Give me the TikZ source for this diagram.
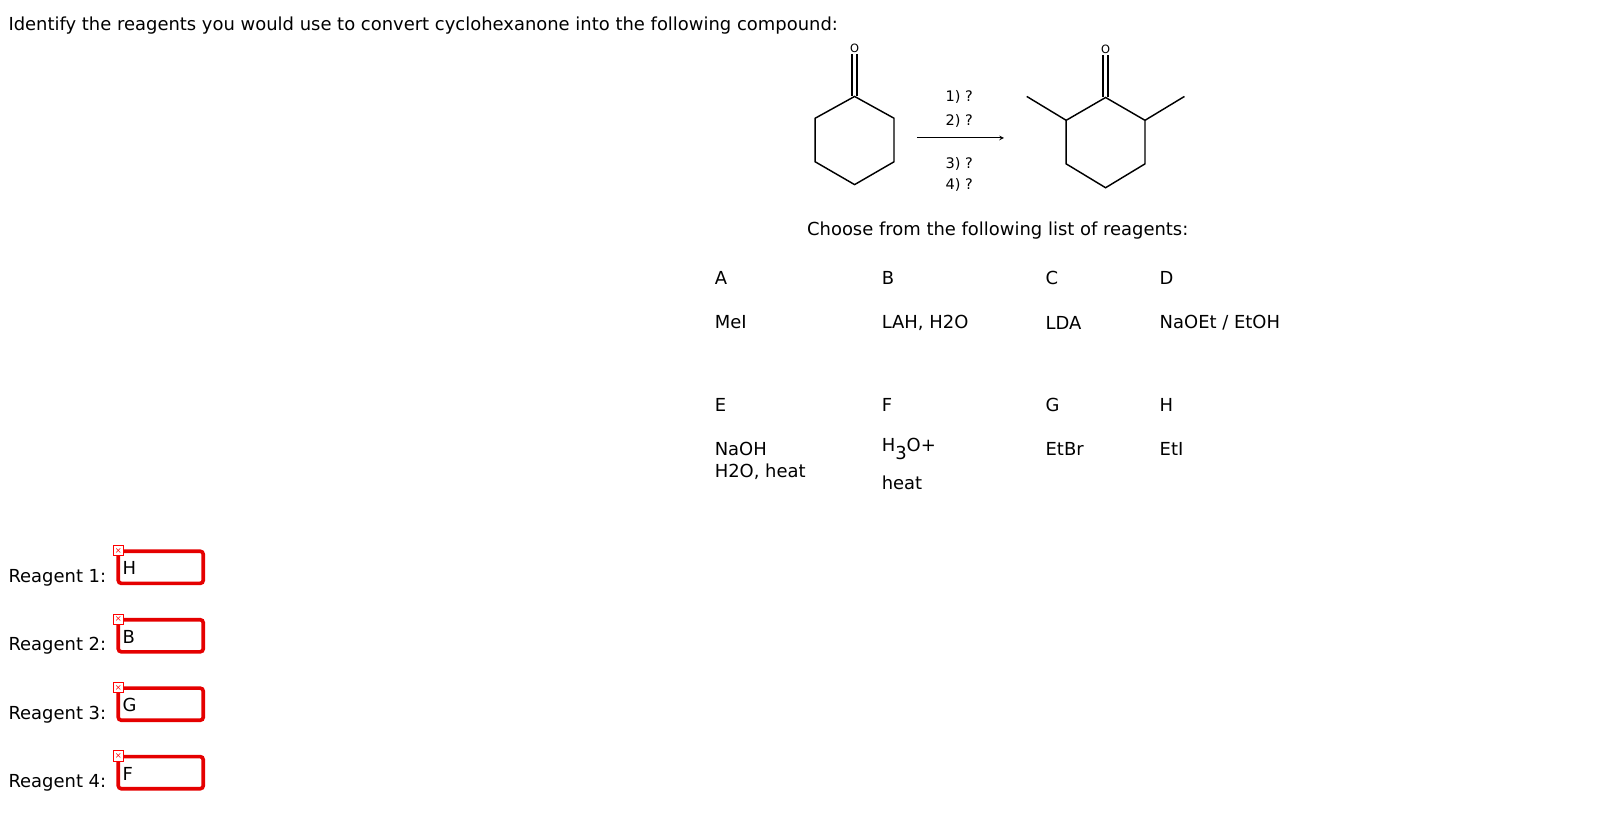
\documentclass[tikz,border=0pt]{standalone}
\usepackage{fontspec}
\setmainfont{DejaVu Sans}
\begin{document}
\begin{tikzpicture}[x=1pt,y=-1pt,
  txt/.style={anchor=west,inner sep=0pt,font=\fontsize{17.3}{20}\selectfont},
  sm/.style={inner sep=0pt,font=\fontsize{14}{16}\selectfont},
  bond/.style={line width=1.4pt},
  rbox/.style={draw=red!90!black,line width=3.5pt,rounded corners=3pt,minimum width=82pt,minimum height=31pt,inner sep=0pt},
  icon/.style={draw=red,fill=white,line width=0.8pt,minimum size=10pt,inner sep=0pt,font=\fontsize{8}{8}\selectfont\color{red}}]
\useasboundingbox (0,0) rectangle (1562,783);
\node[txt] (title) at (8,25) {Identify the reagents you would use to convert cyclohexanone into the following compound:};
% left ring
\coordinate (a1) at (824,93); \coordinate (a2) at (862,114); \coordinate (a3) at (862,156);
\coordinate (a4) at (824,178); \coordinate (a5) at (786,156); \coordinate (a6) at (786,114);
\draw[bond] (a1)--(a2)--(a3)--(a4)--(a5)--(a6)--cycle;
\node[inner sep=1pt,font=\fontsize{11}{11}\selectfont] (o1) at (824,47) {O};
\draw[bond] ([xshift=-2.5pt]a1) -- ([xshift=-2.5pt]o1.south);
\draw[bond] ([xshift=2.5pt]a1) -- ([xshift=2.5pt]o1.south);
% arrow
\coordinate (s) at (884,133); \coordinate (e) at (968,133);
\draw[line width=1pt,-stealth] (s) -- (e);
\node[sm] (r1) at (925,93) {1) ?};
\node[sm] (r2) at (925,117) {2) ?};
\node[sm] (r3) at (925,158) {3) ?};
\node[sm] (r4) at (925,178) {4) ?};
% right ring
\coordinate (b1) at (1066,94); \coordinate (b2) at (1104,116); \coordinate (b3) at (1104,158);
\coordinate (b4) at (1066,181); \coordinate (b5) at (1028,158); \coordinate (b6) at (1028,116);
\coordinate (m1) at (990,93); \coordinate (m2) at (1142,93);
\draw[bond] (b1)--(b2)--(b3)--(b4)--(b5)--(b6)--cycle;
\draw[bond] (b6)--(m1); \draw[bond] (b2)--(m2);
\node[inner sep=1pt,font=\fontsize{11}{11}\selectfont] (o2) at (1066,48) {O};
\draw[bond] ([xshift=-2.5pt]b1) -- ([xshift=-2.5pt]o2.south);
\draw[bond] ([xshift=2.5pt]b1) -- ([xshift=2.5pt]o2.south);
\node[inner sep=0pt,font=\fontsize{17.3}{20}\selectfont] (choose) at (962,222) {Choose from the following list of reagents:};
% table
\node[txt] (A) at (689,268) {A}; \node[txt] (B) at (850,268) {B};
\node[txt] (C) at (1008,268) {C}; \node[txt] (D) at (1118,268) {D};
\node[txt] (Av) at (689,311) {MeI}; \node[txt] (Bv) at (850,311) {LAH, H2O};
\node[txt] (Cv) at (1008,311) {LDA}; \node[txt] (Dv) at (1118,311) {NaOEt / EtOH};
\node[txt] (E) at (689,390) {E}; \node[txt] (F) at (850,390) {F};
\node[txt] (G) at (1008,390) {G}; \node[txt] (H) at (1118,390) {H};
\node[txt] (Ev1) at (689,433) {NaOH}; \node[txt] (Ev2) at (689,455) {H2O, heat};
\node[txt] (Fv1) at (850,433) {H\raisebox{-8pt}{3}O+}; \node[txt] (Fv2) at (850,466) {heat};
\node[txt] (Gv) at (1008,433) {EtBr}; \node[txt] (Hv) at (1118,433) {EtI};
% answer boxes
\foreach \i/\l [count=\k from 0] in {1/H,2/B,3/G,4/F}{
  \node[txt] (lab\i) at (8,{557+66*\k}) {Reagent \i:};
  \node[rbox] (box\i) at (155,{547+66*\k}) {};
  \node[txt] (ans\i) at (118,{548+66*\k}) {\l};
  \node[icon] (ic\i) at (114,{531+66*\k}) {×};
}
\end{tikzpicture}
\end{document}
